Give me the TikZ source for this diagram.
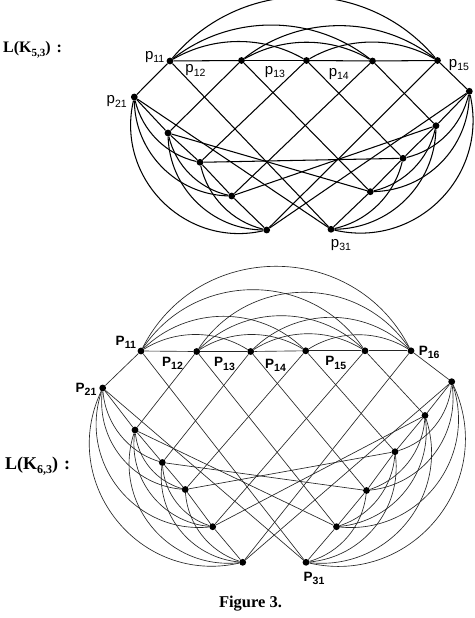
\documentclass[tikz,border=0pt]{standalone}
\usepackage{fontspec}
\setmainfont{Liberation Serif}
\newfontfamily\lsans{Liberation Sans}
\newcommand\subA[1]{\raisebox{-3.5pt}{\fontsize{10.5}{10}\selectfont #1}}
\newcommand\subB[1]{\raisebox{-3.2pt}{\fontsize{10.5}{10}\selectfont\bfseries #1}}
\begin{document}
\begin{tikzpicture}[x=1pt,y=-1pt,
  dotA/.style={circle,fill=black,inner sep=0pt,minimum size=6.8pt},
  edgeA/.style={line width=1.05pt,black},
  edgeB/.style={line width=0.65pt,black!85},
  labA/.style={font=\lsans\fontsize{15}{17}\selectfont, inner sep=0pt},
  labB/.style={font=\lsans\bfseries\fontsize{13.5}{15}\selectfont, inner sep=0pt},
  titl/.style={font=\bfseries\fontsize{16}{18}\selectfont, inner sep=0pt, anchor=west}]
\useasboundingbox (0,0) rectangle (474,618);
\fill[white] (0,0) rectangle (474,618);

% ---------- graph 1 : L(K_{5,3}) ----------
\foreach \n/\x/\y in {a11/170/61, a12/241.5/60.5, a13/306.5/60.5, a14/372.5/61, a15/437.5/60.5,
  a21/134.3/97, a22/168/133, a23/200/162.3, a24/231.7/196, a25/266.7/230,
  a31/331/229.3, a32/370.3/191.7, a33/403/158.3, a34/436/125.7, a35/469.3/91.3}
  \node[dotA] (\n) at (\x,\y) {};

\foreach \j in {1,...,5} {
  \draw[edgeA] (a1\j) -- (a2\j);
  \draw[edgeA] (a1\j) -- (a3\j);
  \draw[edgeA] (a2\j) -- (a3\j);
}
\foreach \r in {1,2,3}
  \foreach \j/\k in {1/2,2/3,3/4,4/5}
    \draw[edgeA] (a\r\j) -- (a\r\k);

\foreach \i/\j/\myang in {1/3/30,2/4/30,3/5/30,1/4/38,2/5/38,1/5/50} {
  \pgfmathsetmacro\mylo{(2/3)*tan(\myang/2)/sin(\myang)/0.3915}
  \draw[edgeA] (a1\i) to[bend left=\myang, looseness=\mylo] (a1\j);
}
\foreach \i/\j/\myang in {1/3/32,2/4/32,3/5/32,1/4/44,2/5/44,1/5/58} {
  \pgfmathsetmacro\mylo{(2/3)*tan(\myang/2)/sin(\myang)/0.3915}
  \draw[edgeA] (a2\i) to[bend right=\myang, looseness=\mylo] (a2\j);
  \draw[edgeA] (a3\i) to[bend right=\myang, looseness=\mylo] (a3\j);
}

\node[labA] (la11) at (154.7,57) {p\subA{11}};
\node[labA] (la12) at (195.5,70.5) {p\subA{12}};
\node[labA] (la13) at (275,72) {p\subA{13}};
\node[labA] (la14) at (338.8,74) {p\subA{14}};
\node[labA] (la15) at (459,65) {p\subA{15}};
\node[labA] (la21) at (116.7,101.5) {p\subA{21}};
\node[labA] (la31) at (341,245) {p\subA{31}};

\node[titl] (tA) at (3,50) {L(K\raisebox{-4pt}{\fontsize{11}{11}\selectfont 5,3})\hspace{6pt}:};

% ---------- graph 2 : L(K_{6,3}) ----------
\foreach \n/\x/\y in {b11/141/351, b12/196.7/351.5, b13/250.7/351.5, b14/305.7/350.8, b15/365/350.8, b16/411/350.8,
  b21/102.7/388, b22/135/430, b23/162.3/462.5, b24/185.2/489.5, b25/212.7/526.7, b26/242.7/562.3,
  b31/306/562.3, b32/336.5/526.7, b33/366.5/490.5, b34/395/451.7, b35/425/415.5, b36/451.7/381.7}
  \node[dotA] (\n) at (\x,\y) {};

\foreach \j in {1,...,6} {
  \draw[edgeB] (b1\j) -- (b2\j);
  \draw[edgeB] (b1\j) -- (b3\j);
  \draw[edgeB] (b2\j) -- (b3\j);
}
\foreach \r in {1,2,3}
  \foreach \j/\k in {1/2,2/3,3/4,4/5,5/6}
    \draw[edgeB] (b\r\j) -- (b\r\k);

\foreach \i/\j/\myang in {1/3/32,2/4/32,3/5/32,4/6/32,1/4/44,2/5/44,3/6/44,1/5/56,2/6/56,1/6/63} {
  \pgfmathsetmacro\mylo{(2/3)*tan(\myang/2)/sin(\myang)/0.3915}
  \draw[edgeB] (b1\i) to[bend left=\myang, looseness=\mylo] (b1\j);
}
\foreach \i/\j/\myang in {1/3/34,2/4/34,3/5/34,4/6/34,1/4/46,2/5/46,3/6/46,1/5/57,2/6/57,1/6/64} {
  \pgfmathsetmacro\mylo{(2/3)*tan(\myang/2)/sin(\myang)/0.3915}
  \draw[edgeB] (b2\i) to[bend right=\myang, looseness=\mylo] (b2\j);
  \draw[edgeB] (b3\i) to[bend right=\myang, looseness=\mylo] (b3\j);
}

\node[labB] (lb11) at (125.8,342.5) {P\subB{11}};
\node[labB] (lb12) at (172.5,363.3) {P\subB{12}};
\node[labB] (lb13) at (224.5,364) {P\subB{13}};
\node[labB] (lb14) at (275.5,365.3) {P\subB{14}};
\node[labB] (lb15) at (335.8,363) {P\subB{15}};
\node[labB] (lb16) at (429.2,352.5) {P\subB{16}};
\node[labB] (lb21) at (86,389) {P\subB{21}};
\node[labB] (lb31) at (314,578.3) {P\subB{31}};

\node[titl, font=\bfseries\fontsize{18}{20}\selectfont] (tB) at (5,466) {L(K\raisebox{-4.5pt}{\fontsize{12}{12}\selectfont 6,3})\hspace{6pt}:};

\node[font=\bfseries\fontsize{16.5}{18}\selectfont, inner sep=0pt] (cap) at (250.5,604) {Figure 3.};
\end{tikzpicture}
\end{document}
